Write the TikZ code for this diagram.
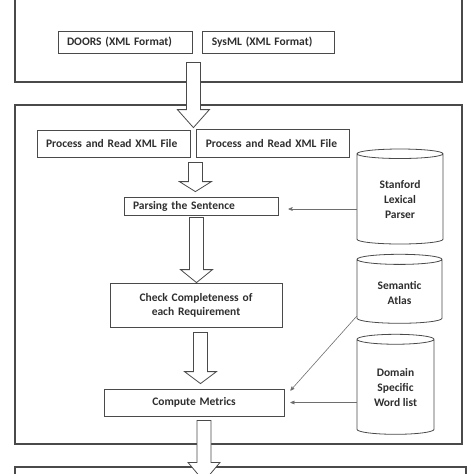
\documentclass[tikz,border=0pt]{standalone}
\usepackage{fontspec}
\setmainfont{Carlito}
\usetikzlibrary{arrows}
\usetikzlibrary{calc}
\usetikzlibrary{positioning}
\usetikzlibrary{shapes.geometric}

\definecolor{boxgray}{HTML}{4A4A4A}
\definecolor{textgray}{HTML}{2E2E2E}
\definecolor{linkgray}{HTML}{6E6E6E}

% hollow block arrow: start point, tip point, head length
\newcommand{\fatarrow}[3][13pt]{%
  \draw[fatarrow] let \p1=(#2), \p2=(#3) in
    (\x1-7pt,\y1) -- (\x1-7pt,\y2+#1) -- (\x1-16pt,\y2+#1) -- (\x1,\y2)
    -- (\x1+16pt,\y2+#1) -- (\x1+7pt,\y2+#1) -- (\x1+7pt,\y1) -- cycle;}

\begin{document}
\begin{tikzpicture}[x=1pt, y=-1pt, >=stealth', semithick]
    \tikzset{
        frame/.style={draw=boxgray, line width=1.1pt, minimum width=447pt},
        proc/.style={draw=boxgray, line width=0.8pt, text=textgray, inner xsep=9pt,
            font=\bfseries\fontsize{11.5}{14}\selectfont},
        db/.style={cylinder, shape border rotate=90, draw=boxgray, line width=0.8pt,
            aspect=0.2, text=textgray, align=center, font=\bfseries\fontsize{11.5}{15}\selectfont},
        link/.style={->, draw=linkgray, line width=0.6pt},
        fatarrow/.style={draw=boxgray, line width=0.8pt, fill=white}
    }
    \useasboundingbox (0,0) rectangle (474,474);

    % frames
    \node[frame, minimum height=92pt] (input) at (238.5,36) {};
    \node[frame, minimum height=339pt] (tool) at (238.5,274.5) {};
    \node[frame, minimum width=451pt, minimum height=33pt] (result) at (240.5,483.5) {};

    % input files
    \node[proc, text width=116pt, minimum height=22pt] (doors) at (125,42) {DOORS (XML Format)};
    \node[proc, text width=114pt, minimum height=22pt, right=10pt of doors] (sysml) {SysML (XML Format)};

    % processing steps
    \node[proc, text width=135pt, minimum height=27pt] (procA) at (113.5,143.5) {Process and Read XML File};
    \node[proc, text width=135pt, minimum height=28pt, right=6pt of procA] (procB) {Process and Read XML File};
    \node[proc, text width=136pt, minimum height=18pt] (parse) at (201,206) {Parsing the Sentence};
    \node[proc, text width=154pt, minimum height=44pt, align=center] (check) at (196,305)
        {Check Completeness of\\each Requirement};
    \node[proc, text width=162pt, minimum height=27pt, align=center] (compute) at (194,402.5) {Compute Metrics};

    % resources
    \node[db, minimum width=86pt, minimum height=95pt] (stanford) at (400,200) {Stanford\\Lexical\\Parser};
    \node[db, minimum width=85pt, minimum height=69pt] (atlas) at (399.5,292.5) {Semantic\\Atlas};
    \node[db, minimum width=77pt, minimum height=100pt] (domain) at (395.5,388) {Domain\\Specific\\Word list};

    \draw[link] ([yshift=-3pt]stanford.west |- parse.east) -- ([xshift=10pt,yshift=-3pt]parse.east);
    \draw[link] (atlas.209) -- ([xshift=6pt,yshift=-2pt]compute.north east);
    \draw[link] (domain.west |- compute.east) -- ([xshift=6pt]compute.east);

    % block arrows
    \coordinate (a1) at ($(doors.south east)+(1,9)$);
    \coordinate (a2) at ($(procA.south east)+(5,5)$);
    \coordinate (a3) at ($(parse.south)+(-4.5,2)$);
    \coordinate (a4) at ($(check.south)+(4.5,5)$);
    \coordinate (a5) at ($(compute.south)+(10,4)$);
    \fatarrow[18pt]{a1}{[yshift=2pt]procA.north}
    \fatarrow[10pt]{a2}{[yshift=5pt]parse.north}
    \fatarrow{a3}{check.north}
    \fatarrow[12pt]{a4}{[yshift=5pt]compute.north}
    \fatarrow[19pt]{a5}{[yshift=-15pt]result.north}
\end{tikzpicture}
\end{document}
